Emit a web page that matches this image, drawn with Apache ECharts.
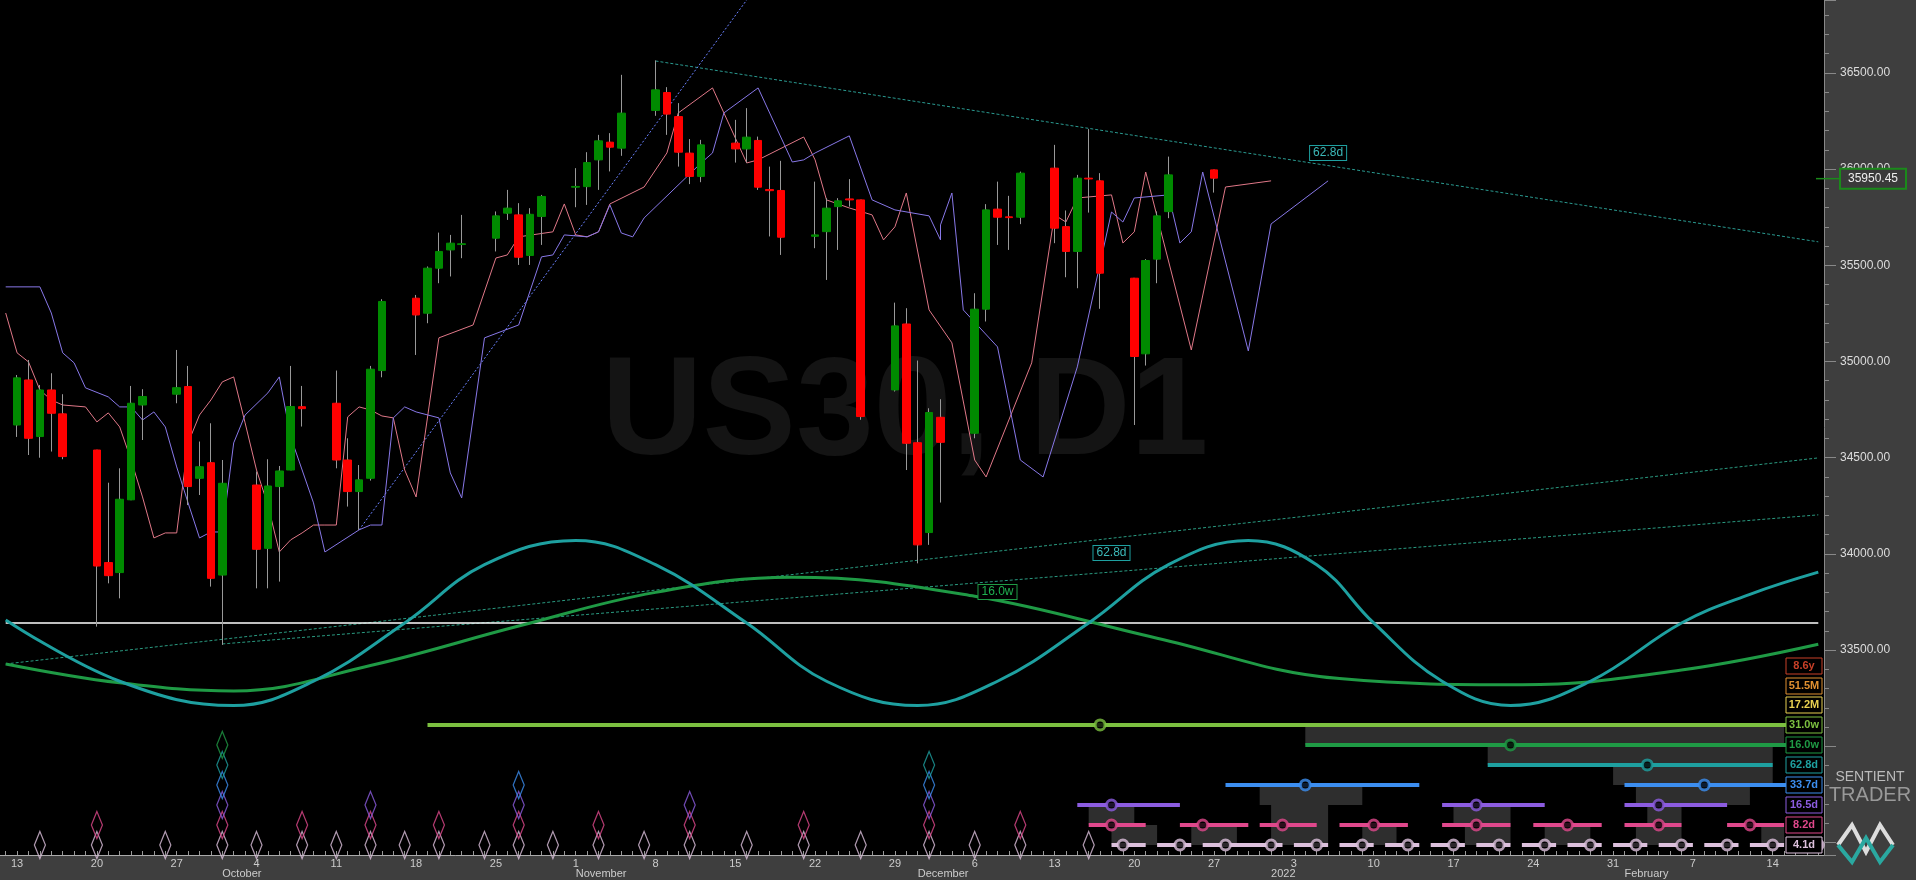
<!DOCTYPE html>
<html><head><meta charset="utf-8">
<script src="https://cdn.jsdelivr.net/npm/echarts@6/dist/echarts.min.js"></script>
<style>html,body{margin:0;padding:0;background:#3e3e3e}#c{width:1916px;height:880px}</style>
</head><body><div id="c"></div>
<script>
// slot 0 = 2021-09-13 (calendar days)
const candleSlots=[0,1,2,3,4, 7,8,9,10,11, 14,15,16,17,18, 21,22,23,24,25, 28,29,30,31,32, 35,36,37,38,39, 42,43,44,45,46, 49,50,51,52,53, 56,57,58,59,60, 63,64,65,66,67, 70,71,72,73,74, 77,78,79,80,81, 84,85,86,87,88, 91,92,93,94,95, 98,99,100,101, 105];
// [open, close, low, high]
const ohlc=[
[34670,34915,34608,34930],[34904,34601,34514,35008],[34610,34852,34500,34878],[34852,34731,34532,34939],[34728,34506,34492,34830],
[34540,33937,33622,34540],[33955,33887,33847,34370],[33903,34284,33769,34445],[34281,34783,34281,34873],[34774,34818,34592,34856],
[34830,34864,34783,35060],[34870,34350,34254,34977],[34393,34453,34306,34584],[34474,33873,33830,34679],[33890,34367,33527,34488],
[34358,34024,33821,34428],[34029,34353,33821,34492],[34350,34431,33856,34457],[34436,34766,34436,34977],[34765,34755,34662,34873],
[34783,34488,34445,34953],[34488,34324,34246,34601],[34324,34385,34125,34462],[34393,34960,34381,34977],[34953,35312,34918,35324],
[35329,35242,35034,35346],[35251,35485,35199,35494],[35485,35572,35407,35670],[35580,35615,35442,35658],[35608,35612,35537,35762],
[35641,35757,35572,35780],[35771,35797,35736,35892],[35762,35542,35502,35823],[35551,35765,35502,35797],[35754,35858,35606,35866],
[35906,35910,35802,36005],[35909,36034,35814,36088],[36048,36147,35892,36178],[36140,36114,35988,36187],[36109,36291,36069,36490],
[36305,36412,36277,36565],[36398,36286,36178,36426],[36273,36088,36013,36343],[36083,35962,35922,36156],[35962,36126,35932,36152],
[36135,36105,36034,36256],[36105,36166,36034,36317],[36149,35906,35892,36169],[35894,35888,35650,36013],[35889,35646,35554,36043],
[35651,35658,35589,35935],[35675,35797,35424,35849],[35805,35835,35580,35849],[35845,35840,35805,35948],[35840,34714,34697,35840],
[34852,35185,34844,35306],[35195,34575,34436,35277],[34578,34047,33951,35005],[34111,34735,34047,34757],[34710,34580,34267,34804],
[34627,35272,34601,35355],[35272,35788,35208,35818],[35792,35750,35606,35935],[35752,35748,35580,35861],[35750,35979,35714,35987],
[36005,35693,35615,36126],[35701,35572,35438,35785],[35572,35953,35381,35970],[35953,35949,35774,36208],[35939,35459,35274,35979],
[35433,35026,34670,35433],[35040,35525,34979,35532],[35532,35757,35407,35780],[35779,35970,35745,36065],
[35996,35953,35878,35996]];
const pinkLine=[[-1,35252],[0,35045],[1,34998],[2,34852],[3,34800],[4,34774],[6,34764],[7,34686],[8,34733],[9,34660],[10,34488],[11,34296],[12,34083],[13,34109],[14,34109],[15,34577],[16,34722],[17,34800],[18,34894],[19,34920],[20,34681],[21,34436],[22,34254],[23,34010],[24,34073],[25,34109],[26,34150],[27,34150],[28,34150],[29,34712],[30,34764],[31,34748],[32,34717],[33,34707],[34,34436],[35,34296],[37,35123],[40,35190],[42,35538],[43,35554],[44,35648],[47,35674],[48,35819],[49,35658],[50,35648],[51,35674],[52,35819],[55,35907],[57,36084],[58,36292],[61,36422],[64,36032],[65,36048],[69,36167],[70,36048],[71,35840],[73,35798],[75,35762],[76,35632],[77,35700],[78,35876],[80,35268],[82,35097],[84,34488],[85,34400],[89,34993],[91,35762],[92,35725],[93,35850],[96,35866],[97,35616],[98,35674],[99,35985],[103,35060],[106,35907],[110,35939]];
const purpleLine=[[-1,35388],[2,35388],[3,35252],[4,35045],[5,34993],[6,34863],[8,34816],[9,34764],[10,34764],[11,34696],[12,34738],[13,34660],[14,34452],[15,34265],[16,34083],[17,34114],[18,34114],[19,34577],[20,34722],[22,34837],[23,34920],[24,34608],[26,34265],[27,34010],[30,34125],[31,34150],[32,34150],[33,34707],[34,34764],[35,34738],[37,34707],[38,34421],[39,34291],[41,35123],[44,35190],[46,35544],[47,35554],[48,35658],[50,35648],[51,35674],[52,35814],[53,35668],[54,35648],[55,35746],[60,36032],[61,36084],[62,36292],[65,36422],[68,36037],[69,36048],[70,36084],[73,36173],[75,35840],[77,35788],[80,35757],[80.5,35632],[81,35710],[82,35876],[83,35268],[86,35076],[88,34488],[90,34400],[93,34972],[96,35777],[97,35725],[98,35850],[101,35866],[102,35616],[103,35674],[104,35985],[108,35055],[110,35715],[115,35939]];
const tealWave=[[-1,33657],[9,33338],[19,33212],[26,33338],[34,33641],[41,33944],[49,34070],[56,33944],[64,33641],[71,33338],[79,33212],[86,33338],[94,33641],[101,33944],[108,34070],[114,33944],[119,33641],[125,33338],[131,33212],[138,33338],[146,33641],[152,33790],[158,33905]];
const greenWave=[[-1,33428],[9,33330],[19,33288],[31,33420],[44,33625],[56,33800],[68,33879],[84,33780],[100,33562],[116,33352],[132,33320],[146,33396],[158,33530]];
const blueTrend=[[30,34125],[64,36879]];
const upperTrend=[[56,36562],[158,35622]];
const lowerTrend1=[[-1,33428],[158,34499]];
const lowerTrend2=[[18,33532],[158,34203]];
const whiteLevel=33641;
const lastPrice=35950.45;
const diamondSlots=[2,7,13,18,21,25,28,31,34,37,41,44,47,51,55,59,64,69,74,80,84,88,94];
const diamondDepth=[1,2,1,6,1,2,1,3,1,2,1,4,1,2,1,3,1,2,1,5,1,2,1];
const cycleNames=['4.1d','8.2d','16.5d','33.7d','62.8d','16.0w','31.0w','17.2M','51.5M','8.6y'];
const cycleColors=['#dcc0dc','#e0488c','#8c5ce0','#3c8ef0','#1ea0a0','#1f9a45','#7cc040','#e8d050','#e09030','#c84028'];
const rowPrice=[32487,32591,32695,32799,32903,33007,33111];
const cycleBars=[[6,36,158,95],[5,113,158,131],[4,129,154,143],[3,106,123,113],[3,141,158,148],
[2,93,102,96],[2,125,134,128],[2,141,150,144],
[1,94,99,96],[1,102,108,104],[1,109,114,111],[1,116,122,119],[1,125,131,128],[1,133,139,136],[1,141,146,144],[1,150,155,152],
[0,96,99,97],[0,100,103,102],[0,104,108,106],[0,108,111,110],[0,112,115,114],[0,116,119,118],[0,120,123,122],[0,124,127,126],[0,128,131,130],[0,132,135,134],[0,136,139,138],[0,140,143,142],[0,144,147,146],[0,148,151,150],[0,152,155,154],[0,156,158,158]];
const greyBoxes=[[6,113,155],[5,129,154],[4,140,154],[3,109,118],[3,142,152],[2,94,98],[2,110,115],[2,126,131],[2,143,146],[1,96,100],[1,103,107],[1,110,115],[1,118,121],[1,127,131],[1,134,138],[1,142,146],[1,153,155]];

const START=new Date(Date.UTC(2021,8,12));
const NDAYS=160;
const categories=[];const dows=[];const doms=[];const mons=[];const years=[];
for(let i=0;i<NDAYS;i++){const d=new Date(START.getTime()+i*86400000);categories.push(d.toISOString().slice(0,10));dows.push(d.getUTCDay());doms.push(d.getUTCDate());mons.push(d.getUTCMonth());years.push(d.getUTCFullYear());}
const monthNames=['January','February','March','April','May','June','July','August','September','October','November','December'];
const X=s=>Math.round(s)+1;

const candleData=categories.map(()=> '-');
const bodyData=categories.map(()=> '-');
candleSlots.forEach((s,i)=>{const [o,c,l,h]=ohlc[i];candleData[X(s)]=[o,c,l,h];bodyData[X(s)]=[o,c,Math.min(o,c),Math.max(o,c)];});
const pts=a=>a.map(p=>[X(p[0]),p[1]]);

const series=[];
series.push({type:'line',data:pts(lowerTrend1),symbol:'none',lineStyle:{color:'#2a9a80',width:1,type:[3,2]},z:3});
series.push({type:'line',data:pts(lowerTrend2),symbol:'none',lineStyle:{color:'#2a9a80',width:1,type:[3,2]},z:3});
series.push({type:'line',data:pts(upperTrend),symbol:'none',lineStyle:{color:'#2a9a90',width:1,type:[3,2]},z:3});
series.push({type:'line',data:pts(blueTrend),symbol:'none',lineStyle:{color:'#6a80ff',width:1,type:[2,2]},z:3});
series.push({type:'line',data:[[0,whiteLevel],[NDAYS-1,whiteLevel]],symbol:'none',lineStyle:{color:'#ffffff',width:1.5},z:3});
series.push({type:'line',data:pts(greenWave),smooth:0.4,symbol:'none',lineStyle:{color:'#1f9a45',width:3},z:4,
  markPoint:{symbol:'rect',symbolSize:1,data:[{coord:[X(86),33802],label:{show:true,formatter:'16.0w',color:'#1fb050',borderColor:'#1f9a45',borderWidth:1,padding:[1,3],backgroundColor:'#000',fontSize:12,fontFamily:'Arial'}}]}});
series.push({type:'line',data:pts(tealWave),smooth:0.4,symbol:'none',lineStyle:{color:'#1ea0a0',width:3},z:4,
  markPoint:{symbol:'rect',symbolSize:1,data:[{coord:[X(96),34005]},{coord:[X(115),36084]}],label:{show:true,formatter:'62.8d',color:'#3cb8b8',borderColor:'#1ea0a0',borderWidth:1,padding:[1,3],backgroundColor:'#000',fontSize:12,fontFamily:'Arial'}}});
series.push({type:'line',data:pts(pinkLine),symbol:'none',connectNulls:true,lineStyle:{color:'#e07888',width:1},z:5});
series.push({type:'line',data:pts(purpleLine),symbol:'none',connectNulls:true,lineStyle:{color:'#8878e8',width:1},z:5});
series.push({type:'candlestick',data:candleData,barWidth:1.5,itemStyle:{color:'#999',color0:'#999',borderColor:'#999',borderColor0:'#999',borderWidth:1},z:6});
series.push({type:'candlestick',data:bodyData,barWidth:8,itemStyle:{color:'#008a00',color0:'#ff0000',borderColor:'#008a00',borderColor0:'#ff0000',borderWidth:1},z:7});
series.push({type:'line',data:[],z:3,markArea:{silent:true,itemStyle:{color:'#2e2e2e'},data:greyBoxes.map(b=>[{coord:[X(b[1]),rowPrice[b[0]]]},{coord:[X(b[2]),rowPrice[b[0]]-104]}])}});
for(let r=0;r<7;r++){
  const segs=[];const circ=[];
  cycleBars.filter(b=>b[0]===r).forEach(b=>{segs.push([X(b[1]),rowPrice[r]],[X(b[2]),rowPrice[r]],[X(b[2])+0.5,null]);circ.push([X(b[3]),rowPrice[r]]);});
  if(!segs.length) continue;
  series.push({type:'line',data:segs,symbol:'none',connectNulls:false,lineStyle:{color:cycleColors[r],width:4},z:8});
  series.push({type:'scatter',data:circ,symbol:'circle',symbolSize:10,itemStyle:{color:'#000',borderColor:cycleColors[r],borderWidth:3},z:9});
}
for(let r=0;r<6;r++){
  const d=[];diamondSlots.forEach((s,i)=>{if(diamondDepth[i]>r)d.push([X(s),rowPrice[r]]);});
  series.push({type:'scatter',data:d,symbol:'diamond',symbolSize:[11,27],itemStyle:{color:'rgba(0,0,0,0)',borderColor:cycleColors[r],borderWidth:1.5},z:8});
}

const chart=echarts.init(document.getElementById('c'));
chart.setOption({
  backgroundColor:'#3e3e3e',animation:false,
  grid:{left:-5,right:92,top:0,bottom:25,show:true,backgroundColor:'#000',borderWidth:0},
  xAxis:[{type:'category',data:categories,boundaryGap:true,
    axisLine:{lineStyle:{color:'#aaa'}},
    axisTick:{show:true,inside:true,length:4,interval:0,alignWithLabel:true,lineStyle:{color:'#999'}},
    axisLabel:{interval:(i)=>dows[i]===1,formatter:(v,i)=>String(doms[i]),color:'#ccc',fontSize:11,fontFamily:'Arial',margin:3},
    splitLine:{show:false}},
   {type:'category',data:categories,position:'bottom',offset:11,boundaryGap:true,
    axisLine:{show:false},axisTick:{show:false},
    axisLabel:{interval:(i)=>doms[i]===1,formatter:(v,i)=>mons[i]===0?String(years[i]):monthNames[mons[i]],color:'#ccc',fontSize:11,fontFamily:'Arial',align:'left',margin:2}}],
  yAxis:{type:'value',position:'right',min:32435,max:36879,splitNumber:9,
    axisLine:{show:true,lineStyle:{color:'#888'}},
    axisTick:{show:true,length:12,lineStyle:{color:'#888'}},
    minorTick:{show:true,splitNumber:5,length:5,lineStyle:{color:'#888'}},
    splitLine:{show:false},
    axisLabel:{formatter:v=>(v%500===0&&v>=33500)?v.toFixed(2):'',color:'#ddd',fontSize:12,fontFamily:'Arial',margin:16}},
  series:series
});
const g=[];
g.push({type:'text',z:1,style:{text:'US30, D1',x:905,y:415,align:'center',verticalAlign:'middle',font:'bold 140px Arial',fill:'#141414'}});
const labY=[845,825,805,785,765,745,725,705,686,666];
for(let r=0;r<10;r++){
  g.push({type:'rect',z:20,shape:{x:1786,y:labY[r]-8,width:36,height:16},style:{fill:'#000',stroke:cycleColors[r],lineWidth:1}});
  g.push({type:'text',z:21,style:{text:cycleNames[r],x:1804,y:labY[r],align:'center',verticalAlign:'middle',font:'bold 11px Arial',fill:cycleColors[r]}});
}
const py=chart.convertToPixel({yAxisIndex:0},lastPrice);
g.push({type:'line',z:20,shape:{x1:1816,y1:py,x2:1840,y2:py},style:{stroke:'#1a8a1a',lineWidth:1.5}});
g.push({type:'rect',z:20,shape:{x:1840,y:py-10,width:66,height:20},style:{fill:'#3a3a3a',stroke:'#1a8a1a',lineWidth:2}});
g.push({type:'text',z:21,style:{text:lastPrice.toFixed(2),x:1873,y:py,align:'center',verticalAlign:'middle',font:'12px Arial',fill:'#eee'}});
g.push({type:'text',z:20,style:{text:'SENTIENT',x:1870,y:777,align:'center',verticalAlign:'middle',font:'14px Arial',fill:'#bbb'}});
g.push({type:'text',z:20,style:{text:'TRADER',x:1870,y:795,align:'center',verticalAlign:'middle',font:'20px Arial',fill:'#999'}});
g.push({type:'polyline',z:20,shape:{points:[[1838,845],[1852,825],[1866,852],[1880,825],[1893,845]]},style:{stroke:'#ddd',lineWidth:4,fill:null}});
g.push({type:'polyline',z:20,shape:{points:[[1838,845],[1852,862],[1866,838],[1880,862],[1893,845]]},style:{stroke:'#2aa8a0',lineWidth:4,fill:null}});
chart.setOption({graphic:g});
</script></body></html>
